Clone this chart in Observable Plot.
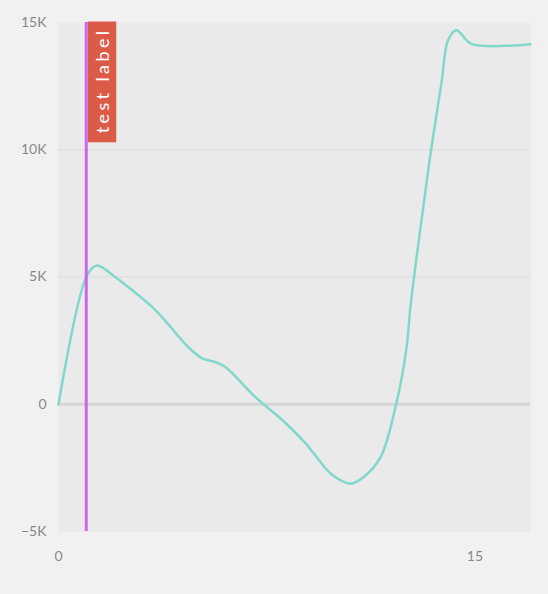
<!DOCTYPE html>
<html>
<head>
<meta charset="utf-8">
<script src="https://cdn.jsdelivr.net/npm/d3@7"></script>
<script src="https://cdn.jsdelivr.net/npm/@observablehq/plot@0.6"></script>
<style>
  html, body { margin: 0; padding: 0; background: #f1f1f1; }
  #chart { width: 548px; height: 594px; }
</style>
</head>
<body>
<div id="chart"></div>
<script>
// curve samples
var xs = [0, 1.02, 1.38, 2.04, 2.4, 3.49, 4.68, 5.18, 5.66, 6.02, 7.1, 8.0, 8.91, 9.2, 9.81, 10.53, 10.99, 11.6, 12.16, 12.52, 12.7, 13.17, 13.42, 13.79, 14.03, 14.33, 14.87, 17];
var ys = [0, 5050, 5450, 5000, 4700, 3700, 2240, 1800, 1650, 1450, 270, -560, -1550, -1940, -2730, -3120, -2860, -2080, 0, 2100, 4070, 8000, 10000, 12600, 14300, 14700, 14160, 14150];

var markerX = [1];
var markerLabels = ["test label"];

var xTicks = [0, 15];
var yTicks = [-5000, 0, 5000, 10000, 15000];
var gridTicks = [5000, 10000];

var data = xs.map(function (x, i) { return { x: x, y: ys[i] }; });
var markers = markerX.map(function (x, i) { return { x: x, label: markerLabels[i] }; });

var chart = Plot.plot({
    width: 548,
    height: 594,
    marginTop: 22,
    marginRight: 18,
    marginBottom: 63,
    marginLeft: 58,
    style: { background: "transparent", fontFamily: "Lato, 'Open Sans', sans-serif", fontSize: "14px", color: "#888" },
    x: { domain: [0, 17], ticks: xTicks, tickSize: 0, tickPadding: 20, label: null },
    y: {
        domain: [-5000, 15000], ticks: yTicks, tickSize: 0, tickPadding: 12, label: null,
        tickFormat: function (d) { return d === 0 ? "0" : (d < 0 ? "\u2212" : "") + Math.abs(d) / 1000 + "K"; }
    },
    marks: [
        Plot.frame({ fill: "#eaeaea", stroke: null }),
        Plot.ruleY(gridTicks, { stroke: "#e1e1e1", strokeWidth: 1.5 }),
        Plot.ruleY([0], { stroke: "#d6d6d6", strokeWidth: 3 }),
        Plot.line(data, { x: "x", y: "y", stroke: "#80d8cb", strokeWidth: 2.5, curve: "catmull-rom" }),
        Plot.ruleX(markers, { x: "x", stroke: "#cc66ee", strokeWidth: 3 }),
        Plot.text(markers, {
            x: "x", frameAnchor: "top", text: "label", rotate: -90, textAnchor: "end",
            dx: 10, dy: 5, fill: "white", fontSize: 18
        })
    ]
});

document.getElementById("chart").appendChild(chart);

// red box behind the marker label, sized from the text itself
d3.select(chart).selectAll("text")
    .filter(function () { return markerLabels.indexOf(this.textContent) >= 0; })
    .each(function () {
        d3.select(this)
            .style("font-size", "18px")
            .style("letter-spacing", "3.4px");
        var b = this.getBBox();
        var parent = this.parentNode;
        d3.select(parent).insert("rect", function () { return parent.firstChild; })
            .attr("transform", this.getAttribute("transform"))
            .attr("x", b.x - 9)
            .attr("y", b.y + b.height / 2 - 14.2)
            .attr("width", b.width + 15)
            .attr("height", 28.4)
            .attr("fill", "#dc5a48");
    });
</script>
</body>
</html>
